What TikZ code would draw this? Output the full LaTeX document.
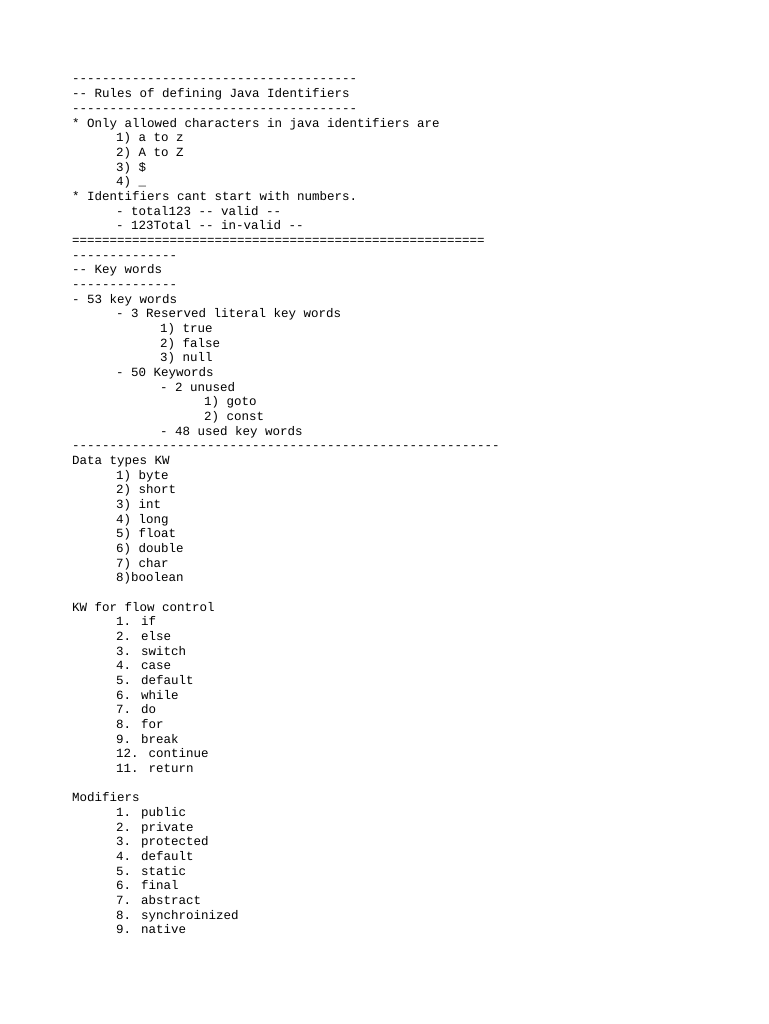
\documentclass[tikz,border=0pt]{standalone}
\usepackage{fontspec}
\newfontfamily\mono{Liberation Mono}
\begin{document}
\begin{tikzpicture}[x=1pt,y=-1pt,t/.style={anchor=base west,inner sep=0pt,font=\mono\fontsize{12.5}{14}\selectfont}]
\useasboundingbox[fill=white] (0,0) rectangle (768,1024);
\def\L#1#2#3#4{\node[t] (#1) at (#2,{79+(#3-1)*14.67+4}) {#4};}
\L{a1}{72}{1}{--------------------------------------}
\L{a2}{72}{2}{-- Rules of defining Java Identifiers}
\L{a3}{72}{3}{--------------------------------------}
\L{a4}{72}{4}{* Only allowed characters in java identifiers are}
\L{a5}{116}{5}{1) a to z}
\L{a6}{116}{6}{2) A to Z}
\L{a7}{116}{7}{3) \$}
\L{a8}{116}{8}{4) \_}
\L{a9}{72}{9}{* Identifiers cant start with numbers.}
\L{a10}{116}{10}{- total123 -- valid --}
\L{a11}{116}{11}{- 123Total -- in-valid --}
\L{a12}{72}{12}{=======================================================}
\L{a13}{72}{13}{--------------}
\L{a14}{72}{14}{-- Key words}
\L{a15}{72}{15}{--------------}
\L{a16}{72}{16}{- 53 key words}
\L{a17}{116}{17}{- 3 Reserved literal key words}
\L{a18}{160}{18}{1) true}
\L{a19}{160}{19}{2) false}
\L{a20}{160}{20}{3) null}
\L{a21}{116}{21}{- 50 Keywords}
\L{a22}{160}{22}{- 2 unused}
\L{a23}{204}{23}{1) goto}
\L{a24}{204}{24}{2) const}
\L{a25}{160}{25}{- 48 used key words}
\L{a26}{72}{26}{---------------------------------------------------------}
\L{a27}{72}{27}{Data types KW}
\L{a28}{116}{28}{1) byte}
\L{a29}{116}{29}{2) short}
\L{a30}{116}{30}{3) int}
\L{a31}{116}{31}{4) long}
\L{a32}{116}{32}{5) float}
\L{a33}{116}{33}{6) double}
\L{a34}{116}{34}{7) char}
\L{a35}{116}{35}{8)boolean}
\L{a37}{72}{37}{KW for flow control}
\L{a38}{116}{38}{1. if}
\L{a39}{116}{39}{2. else}
\L{a40}{116}{40}{3. switch}
\L{a41}{116}{41}{4. case}
\L{a42}{116}{42}{5. default}
\L{a43}{116}{43}{6. while}
\L{a44}{116}{44}{7. do}
\L{a45}{116}{45}{8. for}
\L{a46}{116}{46}{9. break}
\L{a47}{116}{47}{12. continue}
\L{a48}{116}{48}{11. return}
\L{a50}{72}{50}{Modifiers}
\L{a51}{116}{51}{1. public}
\L{a52}{116}{52}{2. private}
\L{a53}{116}{53}{3. protected}
\L{a54}{116}{54}{4. default}
\L{a55}{116}{55}{5. static}
\L{a56}{116}{56}{6. final}
\L{a57}{116}{57}{7. abstract}
\L{a58}{116}{58}{8. synchroinized}
\L{a59}{116}{59}{9. native}
\end{tikzpicture}
\end{document}
